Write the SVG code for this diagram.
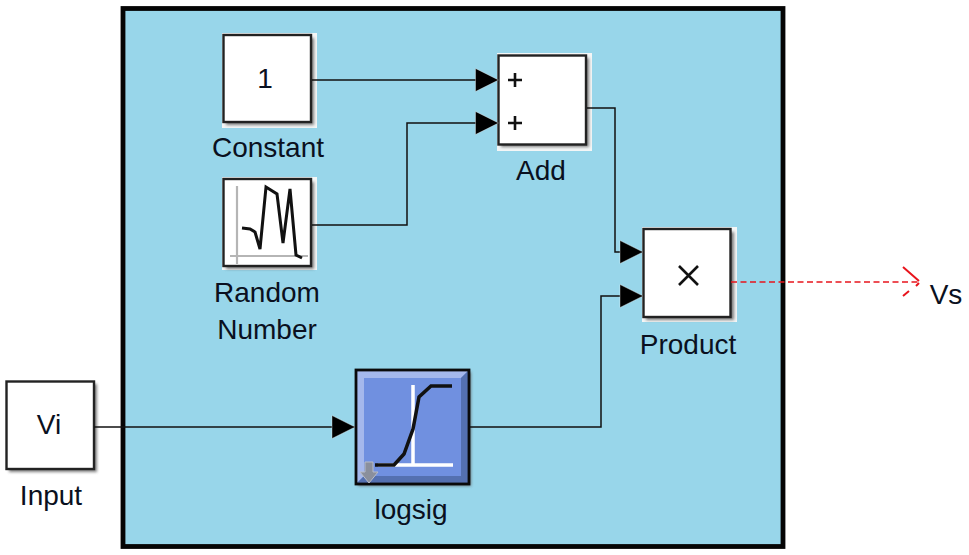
<svg xmlns="http://www.w3.org/2000/svg" width="969" height="555" viewBox="0 0 969 555">
<defs>
<filter id="sh" x="-10%" y="-10%" width="125%" height="125%"><feGaussianBlur stdDeviation="1.5"/></filter>
<marker id="arr" markerUnits="userSpaceOnUse" markerWidth="26" markerHeight="26" refX="24" refY="13" orient="auto"><path d="M1 1.500L24 13L1 24.500Z" fill="#000" stroke="#fff" stroke-opacity="0.45" stroke-width="0.8"/></marker>
</defs>
<style>
text{font-family:"Liberation Sans",Arial,sans-serif;fill:#0a1020;font-size:28px;text-anchor:middle}
.box{fill:#fff;stroke:#222;stroke-width:2.4}
.halo{fill:#f4f6f6}
.shade{fill:#555;opacity:.75;filter:url(#sh)}
.wire{fill:none;stroke:#111;stroke-width:1.5}
.wa{marker-end:url(#arr)}
.red{fill:none;stroke:#e8141c;stroke-width:1.700;stroke-dasharray:6 3.5}
</style>
<rect width="969" height="555" fill="#fff"/>
<g id="subsystem"><rect x="123" y="8.500" width="660" height="538" fill="#98d6ea" stroke="#050505" stroke-width="4.800"/></g>
<g id="constant">
<rect class="halo" x="222" y="33" width="95" height="95"/><rect class="shade" x="226" y="38" width="88" height="87"/>
<rect class="box" x="223.500" y="35" width="87.500" height="87"/>
<text x="265" y="88">1</text><text x="268" y="157">Constant</text>
</g>
<g id="random">
<rect class="halo" x="222" y="177" width="95" height="93"/><rect class="shade" x="226" y="182" width="88" height="87"/>
<rect class="box" x="223.500" y="179" width="87.500" height="87"/>
<path d="M237 186V264M230 256H308" fill="none" stroke="#b5b5b5" stroke-width="2.200"/>
<path d="M242 228L250 229L255 232L260 249L266 187L277 194L283 243L290 189L296 255L302 258" fill="none" stroke="#111" stroke-width="3"/>
<text x="267" y="302">Random</text><text x="267" y="339">Number</text>
</g>
<g id="add">
<rect class="halo" x="497" y="53" width="95" height="98"/><rect class="shade" x="501" y="58" width="88" height="89"/>
<rect class="box" x="498.500" y="55.500" width="87.500" height="89"/>
<path d="M508 80H522M515 73V87M508 123H522M515 116V130" fill="none" stroke="#111" stroke-width="2.600"/>
<text x="541" y="180">Add</text>
</g>
<g id="product">
<rect class="halo" x="642" y="227" width="95" height="95"/><rect class="shade" x="646" y="232" width="88" height="88"/>
<rect class="box" x="643.500" y="229" width="87" height="88"/>
<path d="M679 266L698 285M698 266L679 285" fill="none" stroke="#111" stroke-width="2.600"/>
<text x="688" y="354">Product</text>
</g>
<g id="logsig">
<rect class="shade" x="358" y="372" width="113" height="114"/>
<rect x="356" y="370" width="113" height="114" fill="#7090e0"/>
<path d="M356 370H469L461 378H364V476L356 484Z" fill="#a5b8ec"/>
<path d="M469 370V484H356L364 476H461V378Z" fill="#5470b0"/>
<rect x="356" y="370" width="113" height="114" fill="none" stroke="#0a0a0a" stroke-width="2.800"/>
<path d="M413 385V465M378 465H453" fill="none" stroke="#fff" stroke-width="3.500"/>
<path d="M375 465H394L404 454L413 429L419 397L431 386H452" fill="none" stroke="#111" stroke-width="3.500"/>
<path d="M365 462H373V472H378L369 483L360 472H365Z" fill="#8a8f9c" stroke="#b8bcc6" stroke-width="1"/>
<text x="411" y="519">logsig</text>
</g>
<g id="input">
<rect class="shade" x="9" y="384" width="88" height="88"/>
<rect class="box" x="6.500" y="381.500" width="87.500" height="87.500"/>
<text x="49" y="434">Vi</text><text x="51" y="505">Input</text>
</g>
<g id="output"><text x="946" y="304">Vs</text></g>
<g id="connectors">
<path class="wire wa" d="M312 80H498.500"/>
<path class="wire wa" d="M312 225H407V123H498.500"/>
<path class="wire wa" d="M587 108H615V252H643"/>
<path class="wire wa" d="M94 427H355"/>
<path class="wire wa" d="M470 427H601V296H643"/>
<path class="red" d="M731 282H918"/>
<path fill="none" stroke="#e8141c" stroke-width="2" d="M903 267L919 281M919 283L916 286M909 291L903 296"/>
</g>
</svg>
